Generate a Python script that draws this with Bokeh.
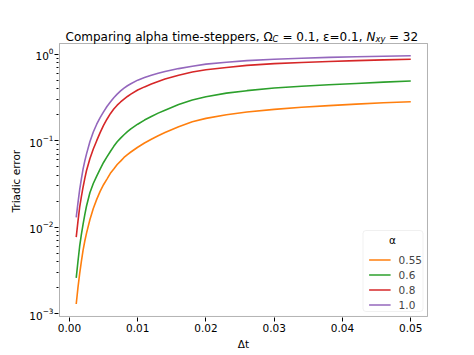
from bokeh.plotting import figure
from bokeh.models import (Range1d, FixedTicker, NumeralTickFormatter, Legend, LegendItem,
                          Label, BoxAnnotation, Title)
from bokeh.embed import file_html
from bokeh.resources import INLINE

# ---- data ----
dt = [0.001, 0.00125, 0.0015, 0.00175, 0.002, 0.00225, 0.0025, 0.003, 0.0035, 0.004,
      0.0045, 0.005, 0.0055, 0.006, 0.0065, 0.007, 0.0075, 0.008, 0.0085, 0.009,
      0.010, 0.011, 0.012, 0.013, 0.014, 0.016, 0.018, 0.020, 0.023, 0.026,
      0.030, 0.034, 0.038, 0.042, 0.046, 0.050]

err_a055 = [0.0013, 0.0020, 0.0029, 0.0040, 0.0054, 0.0069, 0.0085, 0.0122, 0.0165, 0.021,
            0.026, 0.031, 0.036, 0.042, 0.047, 0.053, 0.058, 0.064, 0.069, 0.074,
            0.084, 0.094, 0.104, 0.114, 0.124, 0.145, 0.165, 0.181, 0.199, 0.214,
            0.230, 0.243, 0.254, 0.264, 0.274, 0.282]
err_a06 = [0.0026, 0.0040, 0.0060, 0.0082, 0.0108, 0.0139, 0.0175, 0.025, 0.032, 0.039,
           0.047, 0.056, 0.065, 0.075, 0.086, 0.097, 0.107, 0.117, 0.127, 0.137,
           0.155, 0.173, 0.190, 0.208, 0.225, 0.262, 0.295, 0.322, 0.354, 0.378,
           0.405, 0.425, 0.442, 0.458, 0.474, 0.488]
err_a08 = [0.0077, 0.0116, 0.017, 0.0225, 0.029, 0.0365, 0.045, 0.062, 0.080, 0.100,
           0.124, 0.150, 0.177, 0.205, 0.232, 0.257, 0.280, 0.302, 0.324, 0.345,
           0.385, 0.418, 0.450, 0.483, 0.515, 0.570, 0.620, 0.660, 0.700, 0.740,
           0.775, 0.800, 0.822, 0.840, 0.858, 0.873]
err_a10 = [0.013, 0.019, 0.027, 0.036, 0.047, 0.058, 0.070, 0.097, 0.126, 0.155,
           0.185, 0.215, 0.248, 0.280, 0.313, 0.345, 0.376, 0.405, 0.431, 0.455,
           0.500, 0.537, 0.570, 0.601, 0.630, 0.680, 0.725, 0.765, 0.805, 0.840,
           0.870, 0.895, 0.915, 0.930, 0.943, 0.955]

alpha_labels = ["0.55", "0.6", "0.8", "1.0"]
series = [err_a055, err_a06, err_a08, err_a10]
colors = ["#ff7f0e", "#2ca02c", "#d62728", "#9467bd"]

x_ticks = [0.0, 0.01, 0.02, 0.03, 0.04, 0.05]
y_ticks = [0.001, 0.01, 0.1, 1.0]
y_minor = [m * 10.0 ** e for e in (-3, -2, -1) for m in range(2, 10)]

# axes box limits (as in the reference) and the wider drawing area that also holds the title
X_LO, X_HI = -0.00145, 0.05245
Y_LO, Y_HI = 0.000933, 1.325
FRAME_X = (-0.0015965, 0.0525965)
FRAME_Y = (0.000908, 4.157)

FONT = "DejaVu Sans"

p = figure(width=474, height=355, y_axis_type="log",
           x_range=Range1d(*FRAME_X), y_range=Range1d(*FRAME_Y),
           output_backend="svg", toolbar_location=None,
           min_border_left=58, min_border_right=46, min_border_top=0, min_border_bottom=38)

p.grid.visible = False
p.outline_line_color = None
p.background_fill_color = "white"
p.border_fill_color = "white"

# axes box
p.add_layout(BoxAnnotation(left=X_LO, right=X_HI, bottom=Y_LO, top=Y_HI,
                           fill_alpha=0, line_color="black", line_width=1))

renderers = []
for ys, c in zip(series, colors):
    r = p.line(dt, ys, line_color=c, line_width=1.6)
    renderers.append(r)

p.xaxis.ticker = FixedTicker(ticks=x_ticks)
p.xaxis.formatter = NumeralTickFormatter(format="0.00")
p.yaxis.ticker = FixedTicker(ticks=y_ticks, minor_ticks=y_minor)
for ax in (p.xaxis[0], p.yaxis[0]):
    ax.axis_line_color = None
    ax.major_tick_in = 0
    ax.major_tick_out = 4
    ax.minor_tick_in = 0
    ax.minor_tick_out = 2
    ax.major_tick_line_color = "black"
    ax.minor_tick_line_color = "black"
    ax.major_label_text_font = FONT
    ax.major_label_text_font_size = "10.5px"
    ax.major_label_text_color = "black"
    ax.axis_label_text_font = FONT
    ax.axis_label_text_font_size = "10.5px"
    ax.axis_label_text_font_style = "normal"
    ax.axis_label_text_color = "black"
    ax.major_label_standoff = 2
p.xaxis.minor_tick_out = 0
p.xaxis.axis_label = "Δt"
p.xaxis.axis_label_standoff = 3
p.yaxis.major_label_standoff = 1

# y-axis label, centred on the axes box (not on the taller drawing area)
p.add_layout(Title(text="Triadic error", align="left", offset=105, standoff=10,
                   text_font=FONT, text_font_size="10.5px", text_font_style="normal",
                   text_color="black"), "left")

# legend frame (matplotlib-like translucent rounded box)
p.add_layout(BoxAnnotation(left=304.5, right=364.5, bottom=6, top=87,
                           left_units="screen", right_units="screen",
                           bottom_units="screen", top_units="screen",
                           fill_color="white", fill_alpha=0.8,
                           line_color="#cccccc", line_width=1, border_radius=3))

legend = Legend(items=[LegendItem(label=l, renderers=[r]) for l, r in zip(alpha_labels, renderers)],
                location="bottom_right", title="\u00a0")
legend.margin = 6
legend.padding = 4
legend.spacing = 2
legend.glyph_width = 22
legend.glyph_height = 13
legend.label_height = 13
legend.label_standoff = 8
legend.label_text_font = FONT
legend.label_text_font_size = "10.5px"
legend.title_text_font = FONT
legend.title_text_font_size = "10.5px"
legend.title_standoff = 0
legend.border_line_color = None
legend.background_fill_alpha = 0
p.add_layout(legend)

p.add_layout(Label(x=334, y=78, x_units="screen", y_units="screen", text="α",
                   text_font=FONT, text_font_size="10.5px", text_align="center",
                   text_baseline="middle", text_color="black"))

# title with subscripts / italics (x from the drawing area's left edge, y from its bottom)
title_parts = [
    (7, 281, "Comparing alpha time-steppers, Ω", "12px", "normal"),
    (214, 278.5, "C", "8.4px", "italic"),
    (224, 281, "= 0.1, ε=0.1,", "12px", "normal"),
    (308, 281, "N", "12px", "italic"),
    (317, 278.5, "xy", "8.4px", "italic"),
    (330.5, 281, "= 32", "12px", "normal"),
]
for x, y, t, fs, st in title_parts:
    p.add_layout(Label(x=x, y=y, x_units="screen", y_units="screen", text=t,
                       text_font=FONT, text_font_size=fs, text_font_style=st,
                       text_color="black", text_align="left", text_baseline="alphabetic"))

open("out.html", "w").write(file_html(p, INLINE))
